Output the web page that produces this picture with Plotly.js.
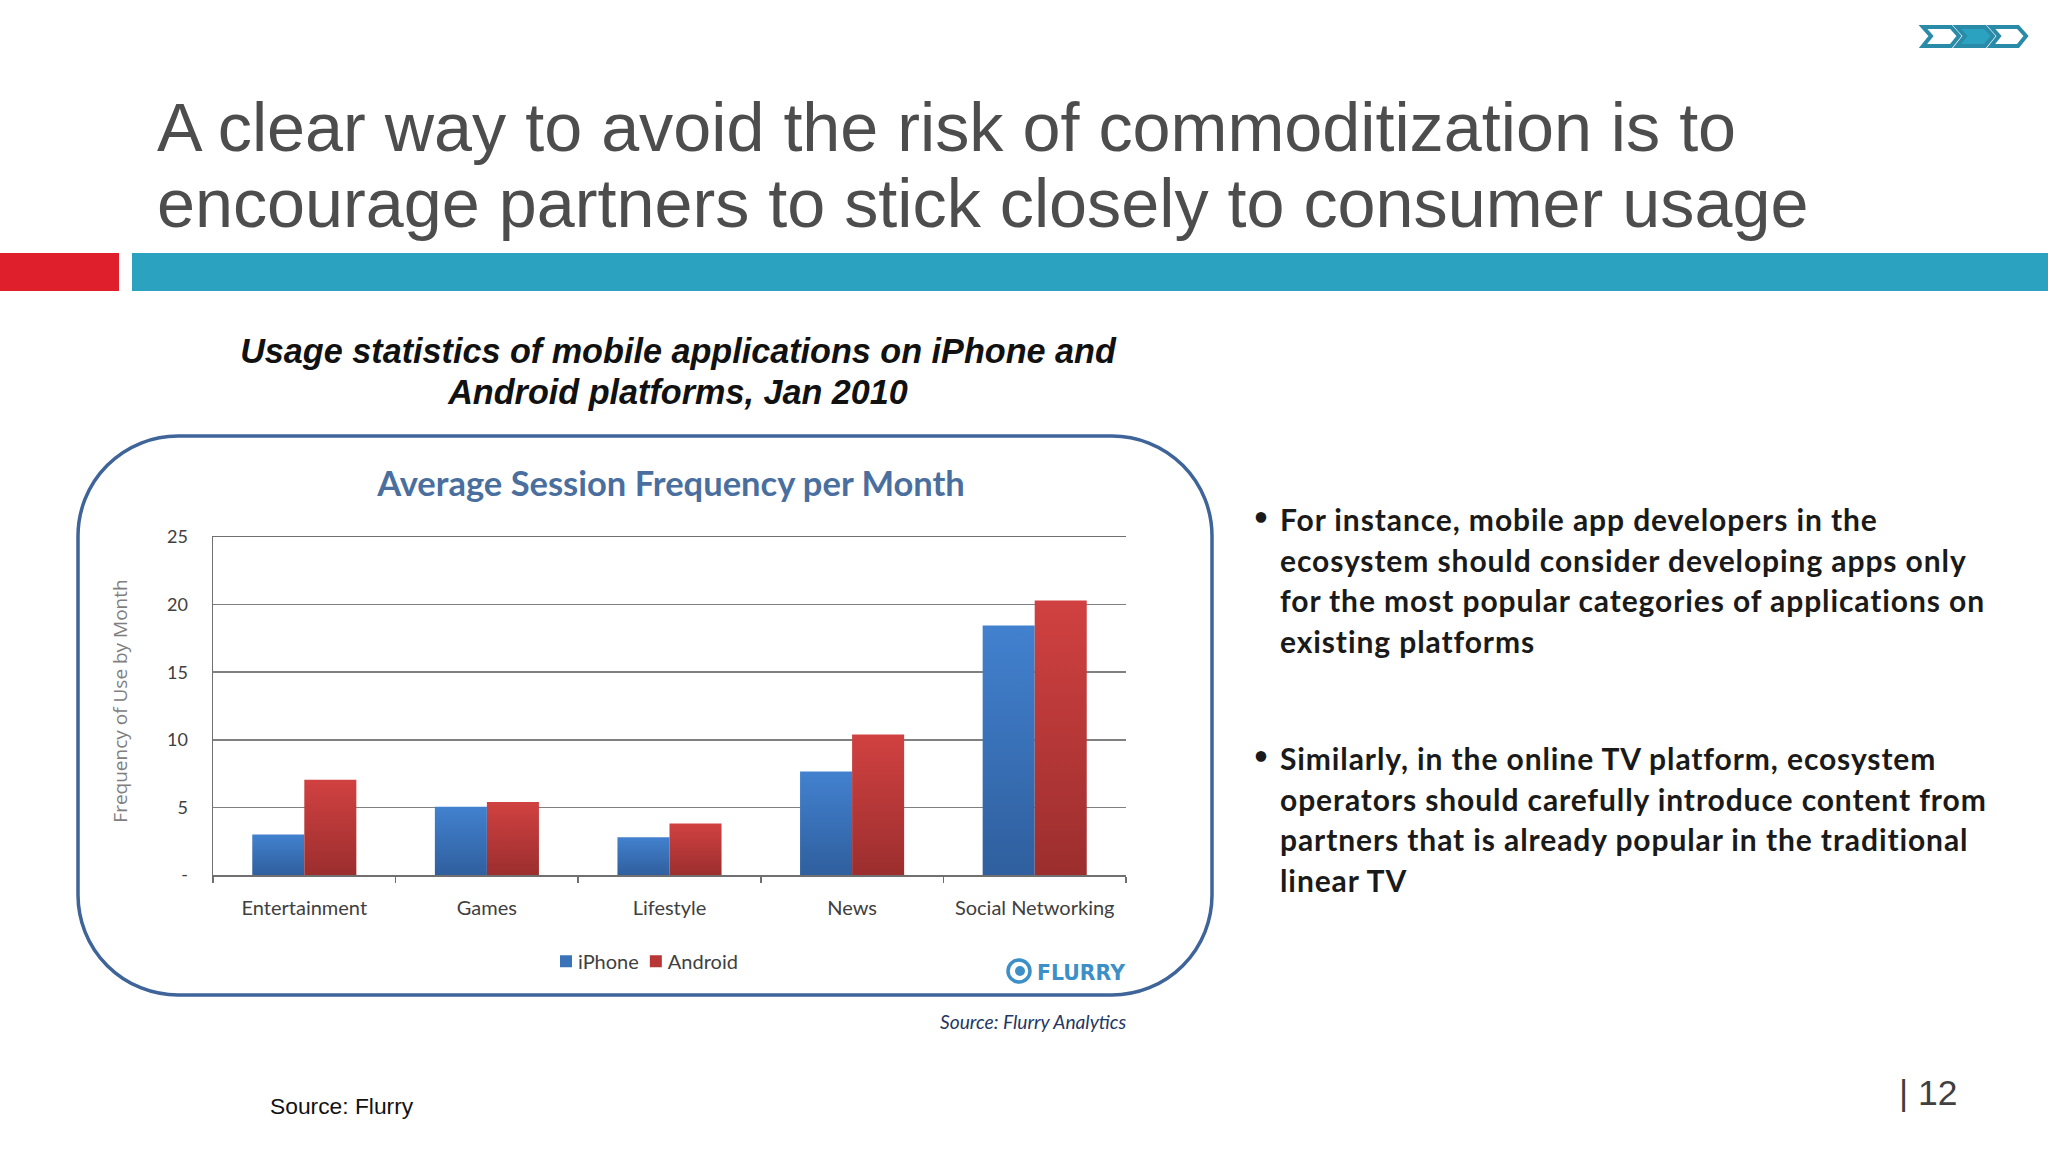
<!DOCTYPE html>
<html><head><meta charset="utf-8">
<script src="https://cdn.plot.ly/plotly-3.0.1.min.js"></script>
<style>
html,body{margin:0;padding:0;background:#fff;width:2048px;height:1152px;overflow:hidden}
.t{position:absolute;white-space:nowrap}
#chart{position:absolute;left:0;top:0;width:2048px;height:1152px}
#deco{position:absolute;left:0;top:0}
</style></head><body>
<svg id="deco" width="2048" height="1152">
 <rect x="0" y="253" width="119" height="38" fill="#e01f2d"/>
 <rect x="132" y="253" width="1916" height="38" fill="#2aa2c0"/>
 <rect x="78" y="436" width="1134" height="559" rx="100" ry="100" fill="#fff" stroke="#3f6499" stroke-width="3.5"/>
 <g stroke="#2a8ba8" stroke-width="4" stroke-linejoin="miter">
  <path d="M1923,27 H1951 L1959,36 L1951,46 H1923 L1931,36 Z" fill="#fff"/>
  <path d="M1957,27 H1985 L1993,36 L1985,46 H1957 L1965,36 Z" fill="#2aa2c0"/>
  <path d="M1991,27 H2018 L2026,36 L2018,46 H1991 L1999,36 Z" fill="#fff"/>
 </g>
 <circle cx="1019" cy="971" r="11" fill="none" stroke="#3d8fc7" stroke-width="3.5"/>
 <circle cx="1020" cy="971" r="5" fill="#3d8fc7"/>
 <text x="1037" y="980" font-family="DejaVu Sans" font-weight="bold" font-size="22" fill="#3d8fc7" textLength="88" lengthAdjust="spacingAndGlyphs">FLURRY</text>
</svg>
<div class="t" style="left:157px;top:89px;font:68.3px/76px 'Liberation Sans';color:#4d4d4d">A clear way to avoid the risk of commoditization is to<br>encourage partners to stick closely to consumer usage</div>
<div class="t" style="left:178px;width:1000px;top:331px;text-align:center;font:italic bold 34.2px/41px 'Liberation Sans';color:#111">Usage statistics of mobile applications on iPhone and<br>Android platforms, Jan 2010</div>
<div class="t" style="left:1254px;top:496px;font:bold 24px/40.7px Lato;color:#1a1a1a">•</div>
<div class="t" style="left:1280px;top:499px;font:bold 30px/40.7px Lato;letter-spacing:0.9px;color:#1a1a1a">For instance, mobile app developers in the<br>ecosystem should consider developing apps only<br>for the most popular categories of applications on<br>existing platforms</div>
<div class="t" style="left:1254px;top:735px;font:bold 24px/40.7px Lato;color:#1a1a1a">•</div>
<div class="t" style="left:1280px;top:738px;font:bold 30px/40.7px Lato;letter-spacing:0.9px;color:#1a1a1a">Similarly, in the online TV platform, ecosystem<br>operators should carefully introduce content from<br>partners that is already popular in the traditional<br>linear TV</div>
<div class="t" style="left:270px;top:1092px;font:22.8px/28px 'Liberation Sans';color:#111">Source: Flurry</div>
<div class="t" style="left:1899px;top:1072px;font:35.4px/42px 'Liberation Sans';color:#404040">| 12</div>
<div class="t" style="left:940px;top:1011px;font:italic 19.2px/22px Lato;color:#1f3864">Source: Flurry Analytics</div>
<div id="chart"></div>
<script>
const categories = ['Entertainment','Games','Lifestyle','News','Social Networking'];
const iPhone  = [3.0, 5.05, 2.8, 7.65, 18.45];
const Android = [7.05, 5.4, 3.8, 10.4, 20.3];
const yTickVals = [0,5,10,15,20,25];
const yTickText = ['-','5','10','15','20','25'];
const tickFont = {family:'Lato',size:20,color:'#404040'};
const traces = [
 {type:'bar',name:'iPhone',x:categories,y:iPhone,marker:{color:'#3b73b8'}},
 {type:'bar',name:'Android',x:categories,y:Android,marker:{color:'#b93636'}}
];
const layout = {
 width:2048,height:1152,autosize:false,
 paper_bgcolor:'rgba(0,0,0,0)',plot_bgcolor:'rgba(0,0,0,0)',
 margin:{l:213,r:922,t:537,b:277,pad:0},
 barmode:'group',bargap:0.43,bargroupgap:0,
 title:{text:'Average Session Frequency per Month',font:{family:'Lato',size:34.5,color:'#4a6f9f',weight:700},
   x:671/2048,xanchor:'center',y:1-484/1152,yanchor:'middle'},
 xaxis:{type:'category',tickson:'boundaries',ticks:'outside',ticklen:6,tickcolor:'#707070',tickwidth:1.5,
   showline:true,mirror:true,linecolor:'#707070',linewidth:1.5,showgrid:false,tickfont:tickFont,ticklabelstandoff:14},
 yaxis:{range:[0,25],tickvals:yTickVals,ticktext:yTickText,showline:true,linecolor:'#707070',linewidth:1.5,
   showgrid:true,gridcolor:'#808080',gridwidth:1.5,zeroline:false,ticks:'',tickfont:{family:'Lato',size:18,color:'#404040'},ticklabelstandoff:20,
   title:{text:'Frequency of Use by Month',font:{family:'Open Sans',size:19,color:'#808080'},standoff:34}},
 showlegend:true,
 legend:{orientation:'h',x:(559-213-21)/913,xanchor:'left',y:-0.255,yanchor:'middle',font:{family:'Lato',size:20,color:'#404040'},bgcolor:'rgba(0,0,0,0)',itemwidth:30,traceorder:'normal'}
};
function grad(defs,id,top,bottom){
 const ns='http://www.w3.org/2000/svg';
 const g=document.createElementNS(ns,'linearGradient');
 g.setAttribute('id',id);g.setAttribute('x1','0');g.setAttribute('y1','0');g.setAttribute('x2','0');g.setAttribute('y2','1');
 [[0,top],[1,bottom]].forEach(([o,c])=>{const s=document.createElementNS(ns,'stop');s.setAttribute('offset',o);s.setAttribute('stop-color',c);g.appendChild(s);});
 defs.appendChild(g);
}
Plotly.newPlot('chart',traces,layout,{displayModeBar:false,staticPlot:true}).then(gd=>{
 const svg=gd.querySelector('.main-svg');
 const defs=svg.querySelector('defs');
 grad(defs,'gB','#4281cf','#2f5f9e');
 grad(defs,'gR','#d14141','#9c2e2e');
 gd.querySelectorAll('.barlayer .trace').forEach((t,i)=>{
  t.querySelectorAll('path').forEach(p=>{p.style.fill='url(#'+(i?'gR':'gB')+')';});
 });
 const yt=gd.querySelector('.ytitle');
 if(yt){const cur=yt.getAttribute('transform')||'';yt.setAttribute('transform','translate(0,-5) '+cur);}
 gd.querySelectorAll('.legend .traces').forEach((t,i)=>{
  const sym=t.querySelector('.legendsymbols');
  if(sym) sym.setAttribute('transform','translate(8,0)');
  if(i===1){
   const m=/translate\(([-\d.]+)[ ,]*([-\d.]*)\)/.exec(t.getAttribute('transform')||'');
   if(m) t.setAttribute('transform','translate('+(parseFloat(m[1])-16)+','+(m[2]||0)+')');
  }
 });
});
</script>
</body></html>
